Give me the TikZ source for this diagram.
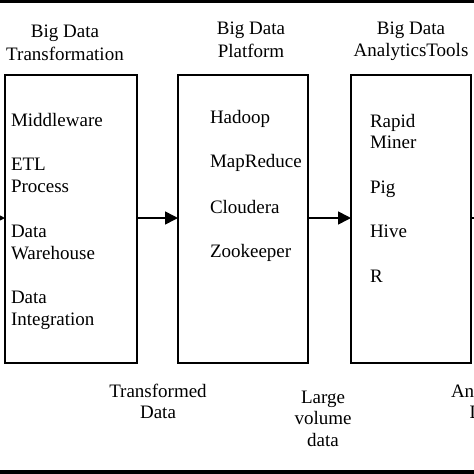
\documentclass[tikz,border=0pt]{standalone}
\usepackage{fontspec}
\setmainfont{Liberation Serif}
\usetikzlibrary{arrows.meta}
\begin{document}
\begin{tikzpicture}[x=1pt,y=-1pt,
  every node/.style={inner sep=0pt,outer sep=0pt,font=\fontsize{19}{22.5}\selectfont},
  stage/.style={draw=black,line width=2pt},
  item/.style={anchor=base west,align=left},
  ttl/.style={anchor=base,align=center},
  flow/.style={line width=1.6pt,-{Triangle[length=13pt,width=13pt]}},
  band/.style={fill=black,draw=none}]
\useasboundingbox (0,0) rectangle (474,474);
\clip (0,0) rectangle (474,474);
\fill[white] (0,0) rectangle (474,474);
\fill[band] (0,0) rectangle (474,3.3);
\fill[band] (0,470) rectangle (474,474);
% boxes
\node[stage,minimum width=132pt,minimum height=288pt,anchor=north west] (b1) at (5,75) {};
\node[stage,minimum width=130pt,minimum height=288pt,anchor=north west] (b2) at (178,75) {};
\node[stage,minimum width=120pt,minimum height=288pt,anchor=north west] (b3) at (351,75) {};
% titles
\node[ttl] (t1a) at (65,37) {Big Data};
\node[ttl] (t1b) at (65,60) {Transformation};
\node[ttl] (t2a) at (251,34) {Big Data};
\node[ttl] (t2b) at (251,57) {Platform};
\node[ttl] (t3a) at (411,34) {Big Data};
\node[ttl] (t3b) at (411,56.5) {AnalyticsTools};
% box 1 items
\node[item] (m1) at (11,126) {Middleware};
\node[item] (m2) at (11,170) {ETL};
\node[item] (m2b) at (11,192) {Process};
\node[item] (m3) at (11,237) {Data};
\node[item] (m3b) at (11,259) {Warehouse};
\node[item] (m4) at (11,303) {Data};
\node[item] (m4b) at (11,325) {Integration};
% box 2 items
\node[item] (p1) at (210,123) {Hadoop};
\node[item] (p2) at (210,167.5) {MapReduce};
\node[item] (p3) at (210,213) {Cloudera};
\node[item] (p4) at (210,257) {Zookeeper};
% box 3 items
\node[item] (a1) at (370,127) {Rapid};
\node[item] (a1b) at (370,148) {Miner};
\node[item] (a2) at (370,193) {Pig};
\node[item] (a3) at (370,237) {Hive};
\node[item] (a4) at (370,282) {R};
% connectors
\coordinate (in) at (-30,218);
\coordinate (out) at (510,218);
\draw[flow] (in) -- (b1.west |- in);
\draw[flow] (b1.east |- in) -- (b2.west |- in);
\draw[flow] (b2.east |- in) -- (b3.west |- in);
\draw[flow] (b3.east |- in) -- (out);
% flow labels
\node[ttl] (l1a) at (158,397) {Transformed};
\node[ttl] (l1b) at (158,418) {Data};
\node[ttl] (l2a) at (323,403.5) {Large};
\node[ttl] (l2b) at (323,424.5) {volume};
\node[ttl] (l2c) at (323,446.5) {data};
\node[anchor=base west] (l3a) at (451,397) {Analyzed};
\node[anchor=base west] (l3b) at (469.5,418) {Data};
\end{tikzpicture}
\end{document}
